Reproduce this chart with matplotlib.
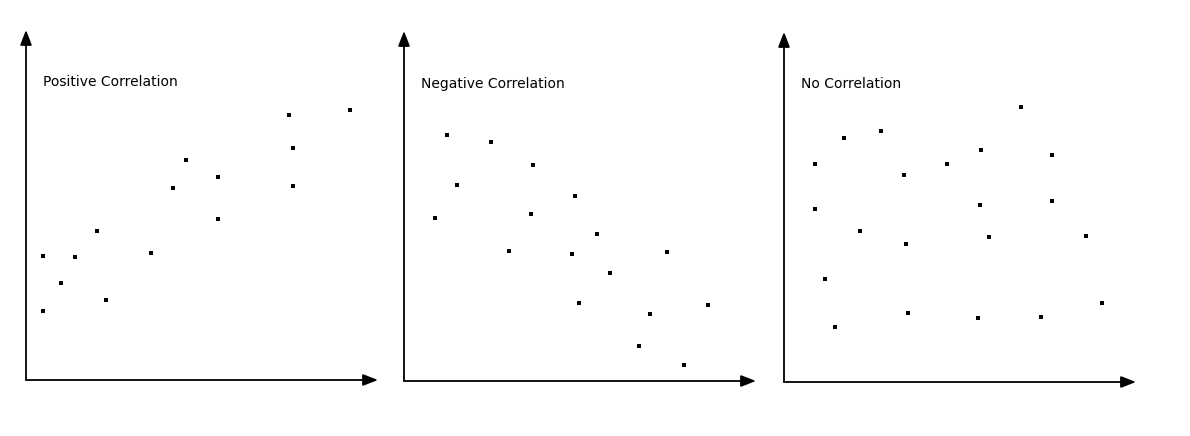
import matplotlib
matplotlib.use("Agg")
import matplotlib.pyplot as plt

W, H = 1190, 436

# panel origins (px) and axis lengths (px)
ORIGINS = [(26, 380), (404, 381), (784, 382)]
X_LEN, Y_LEN = 352, 350

TITLES = ["Positive Correlation", "Negative Correlation", "No Correlation"]

# point positions, in px (x, y from top)
pos_x = [43, 43, 61, 75, 97, 106, 151, 173, 186, 218, 218, 289, 293, 293, 350]
pos_y = [256, 311, 283, 257, 231, 300, 253, 188, 160, 177, 219, 115, 148, 186, 110]
neg_x = [447, 457, 435, 491, 533, 531, 509, 575, 597, 572, 610, 579, 667, 650, 639, 684, 708]
neg_y = [135, 185, 218, 142, 165, 214, 251, 196, 234, 254, 273, 303, 252, 314, 346, 365, 305]
non_x = [815, 815, 844, 881, 860, 825, 835, 904, 906, 908, 947, 981, 980, 989, 978,
         1021, 1052, 1052, 1041, 1086, 1102]
non_y = [164, 209, 138, 131, 231, 279, 327, 175, 244, 313, 164, 150, 205, 237, 318,
         107, 155, 201, 317, 236, 303]

SERIES = [(pos_x, pos_y), (neg_x, neg_y), (non_x, non_y)]
DOT_SIZES = [6, 7, 8]

fig = plt.figure(figsize=(W / 100, H / 100), dpi=100)
fig.patch.set_facecolor("white")

for (ox, oy), title, (xs, ys), ds in zip(ORIGINS, TITLES, SERIES, DOT_SIZES):
    ax = fig.add_axes([ox / W, (H - oy) / H, X_LEN / W, Y_LEN / H])
    ax.set_xlim(0, X_LEN)
    ax.set_ylim(0, Y_LEN)
    ax.axis("off")
    arrow = dict(arrowstyle="-|>,head_length=0.9,head_width=0.35", color="black", lw=1.3,
                 shrinkA=0, shrinkB=0)
    ax.annotate("", xy=(X_LEN, 0), xytext=(0, 0), arrowprops=arrow, annotation_clip=False)
    ax.annotate("", xy=(0, Y_LEN), xytext=(0, 0), arrowprops=arrow, annotation_clip=False)
    ax.scatter([x - ox for x in xs], [oy - y for y in ys], s=ds, marker="s",
               color="black", linewidths=0, clip_on=False)
    ax.text(17, oy - 82 + (-2 if ox > 400 else 0), title, fontsize=10, family="DejaVu Sans",
            va="center", ha="left")

fig.savefig("out.png", dpi=100)
